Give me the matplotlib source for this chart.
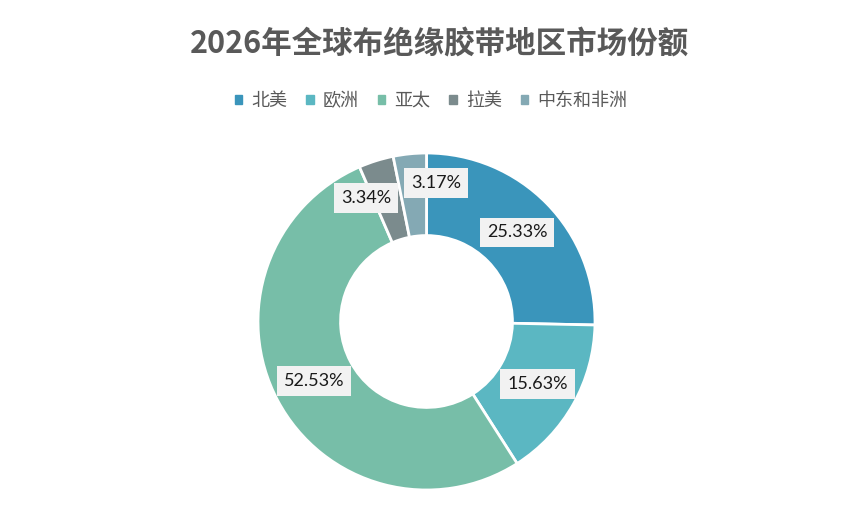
import numpy as np
import matplotlib
matplotlib.use("Agg")
import matplotlib.pyplot as plt

plt.rcParams['font.family'] = ['Noto Sans CJK SC', 'DejaVu Sans']

title = "2026年全球布绝缘胶带地区市场份额"
regions = ["北美", "欧洲", "亚太", "拉美", "中东和非洲"]
shares = [25.33, 15.63, 52.53, 3.34, 3.17]
colors = ["#3A95BB", "#5BB7C2", "#77BEA8", "#7B8B8D", "#84A9B4"]
# label nudges (pixels) for crowded small slices
label_nudge = [(0, 0), (0, 0), (0, 0), (-22, 2), (22, 12)]

fig = plt.figure(figsize=(8.59, 5.05), dpi=100)
W, H = 859, 505
cx, cy, R = 426.5, 321.5, 168.5
ax = fig.add_axes([(cx - R) / W, 1 - (cy + R) / H, 2 * R / W, 2 * R / H])
wedges, _ = ax.pie(shares, colors=colors, startangle=90, counterclock=False,
                   radius=1.0, wedgeprops=dict(width=0.49, edgecolor="white", linewidth=2.0))
ax.set_xlim(-1, 1)
ax.set_ylim(-1, 1)
ax.set_aspect("equal")
ax.axis("off")

total = sum(shares)
cum = 0
rl = 0.755
for v, (dx, dy) in zip(shares, label_nudge):
    mid = np.deg2rad(90 - (cum + v / 2) / total * 360)
    cum += v
    ax.annotate(f"{v:.2f}%", xy=(rl * np.cos(mid), rl * np.sin(mid)),
                xytext=(dx, dy), textcoords="offset pixels",
                ha="center", va="center", fontsize=13, color="#1A1A1A",
                family=["Lato", "DejaVu Sans"],
                bbox=dict(boxstyle="square,pad=0.38", fc="#F2F2F2", ec="none"))

fig.text(439 / W, 1 - 44 / H, title, ha="center", va="center", fontsize=22,
         fontweight="bold", color="#595959")

handles = [plt.Rectangle((0, 0), 1, 1, color=c) for c in colors]
fig.legend(handles, regions, loc="center", bbox_to_anchor=(431 / W, 1 - 101 / H),
           ncol=5, frameon=False, fontsize=13, labelcolor="#595959",
           handlelength=0.42, handleheight=0.42, handletextpad=0.5, columnspacing=1.05)

fig.savefig("out.png", dpi=100)
